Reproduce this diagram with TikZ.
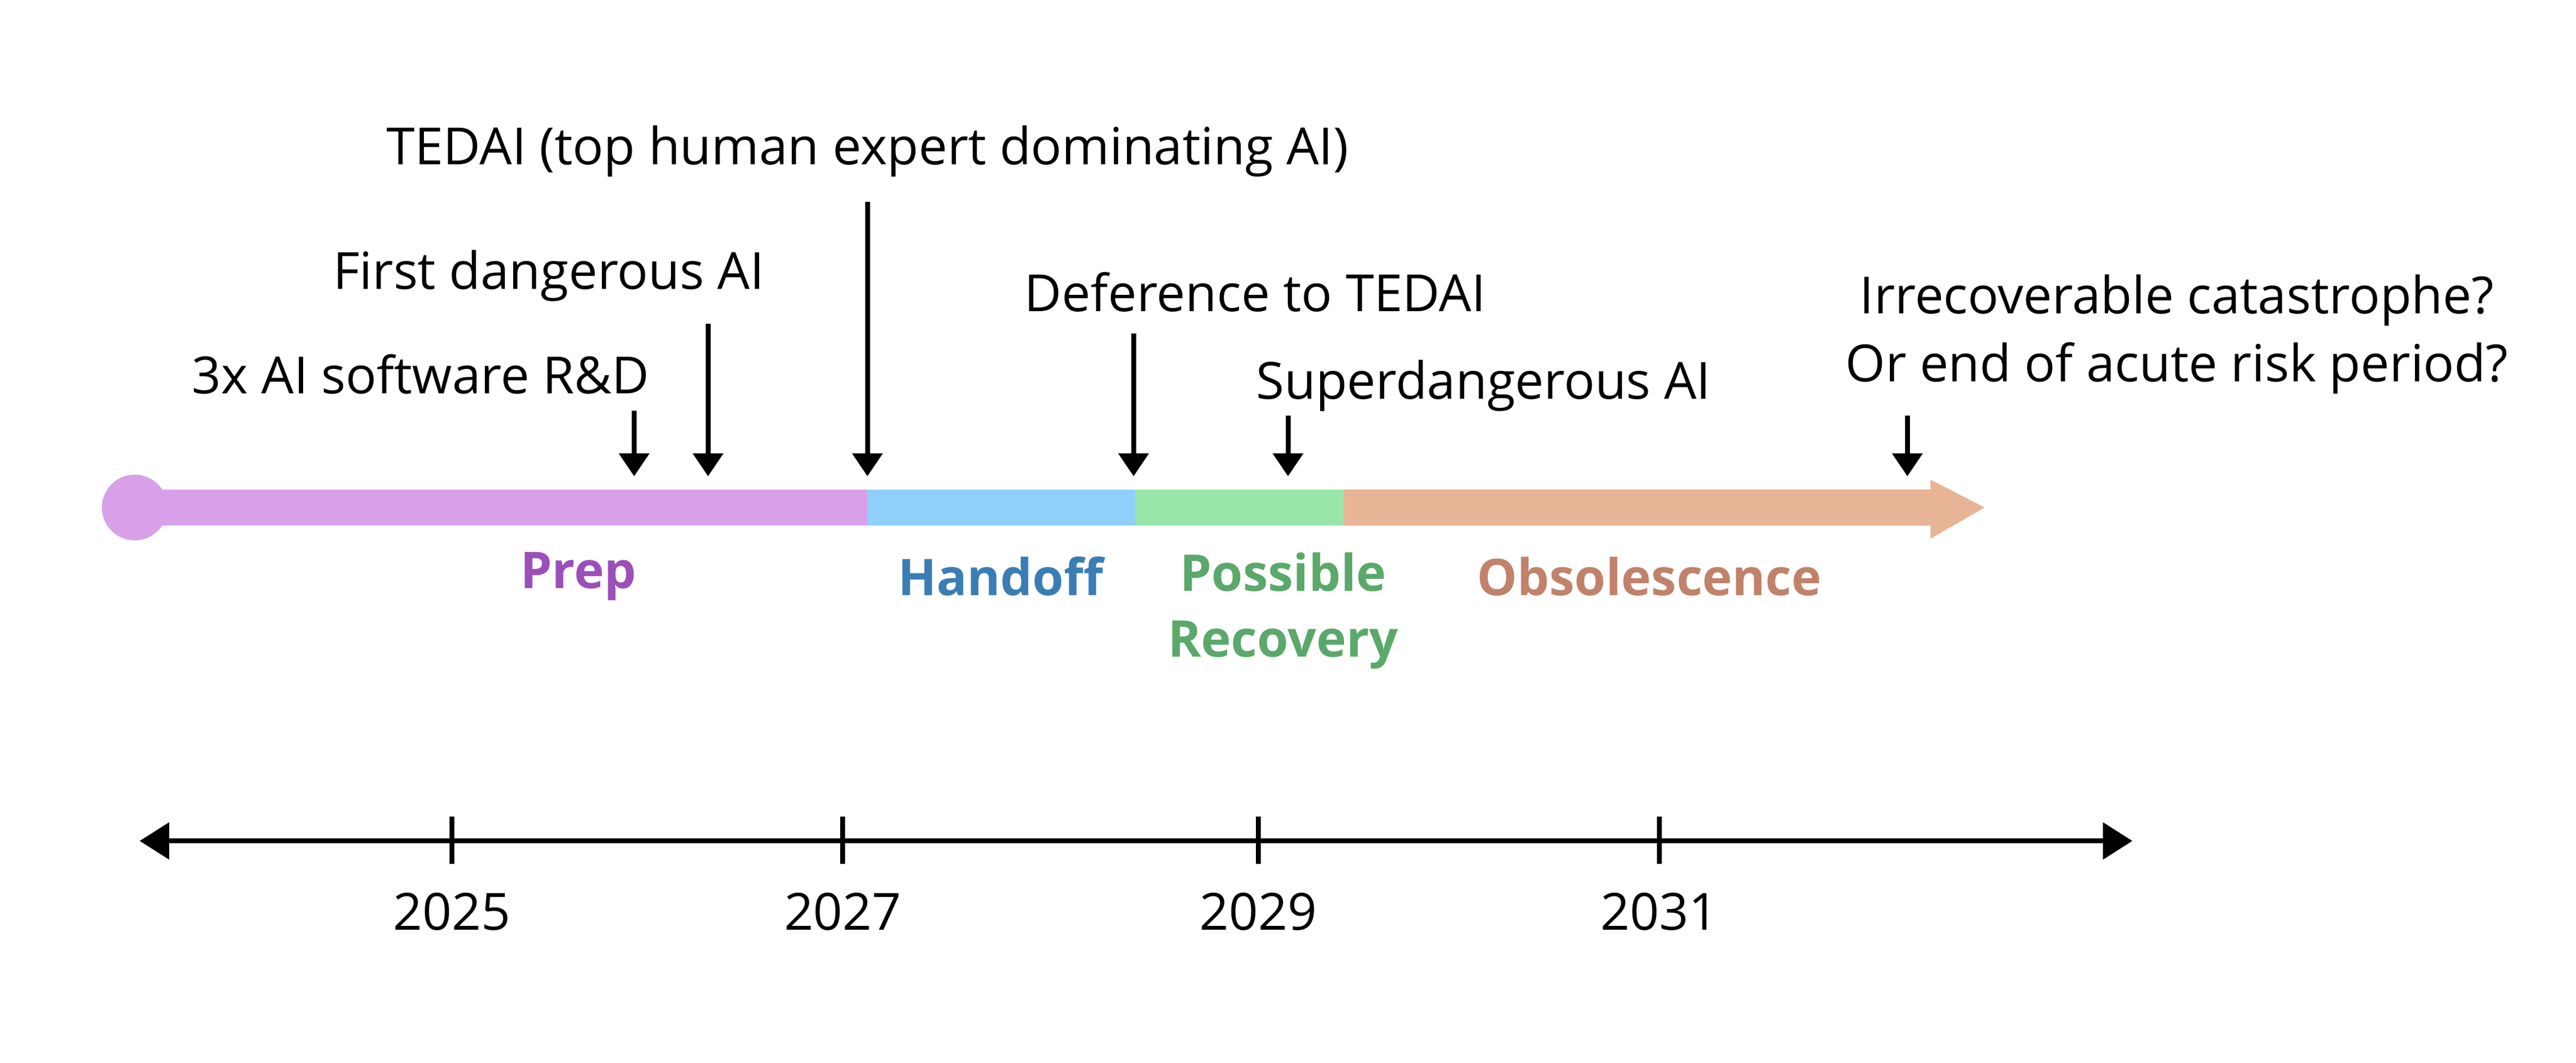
\documentclass[tikz,border=0pt]{standalone}
\usepackage{fontspec}
\setmainfont{Open Sans}
\usetikzlibrary{arrows.meta}
\definecolor{cpurple}{HTML}{D8A0E8}
\definecolor{cblue}{HTML}{90CFFA}
\definecolor{cgreen}{HTML}{98E6A8}
\definecolor{corange}{HTML}{E8B496}
\definecolor{tpurple}{HTML}{9B4FB8}
\definecolor{tblue}{HTML}{3A7DB5}
\definecolor{tgreen}{HTML}{5BA86B}
\definecolor{torange}{HTML}{C0826A}
\begin{document}
\begin{tikzpicture}[x=0.5pt,y=-0.5pt,
  lbl/.style={font=\fontsize{15.6}{18}\selectfont,text=black,inner sep=0},
  phase/.style={font=\fontsize{15.4}{20}\selectfont\bfseries,inner sep=0,align=center},
  ev/.style={-{Triangle[width=9pt,length=7pt]},line width=1.5pt},
  yr/.style={font=\fontsize{15.6}{18}\selectfont,inner sep=0}]
\useasboundingbox (0,0) rectangle (1568,647);
% bar
\fill[cpurple] (82,309) circle (20);
\fill[cpurple] (82,298) rectangle (528,320);
\fill[cblue] (528,298) rectangle (691,320);
\fill[cgreen] (691,298) rectangle (818,320);
\fill[corange] (818,298) rectangle (1175,320) -- (1175,292) -- (1208,309) -- (1175,328) -- cycle;
% phase labels
\node[phase,text=tpurple] (prep) at (352,351) {Prep};
\node[phase,text=tblue] (hand) at (609,351) {Handoff};
\node[phase,text=tgreen,anchor=north] (rec) at (781,336) {Possible\\Recovery};
\node[phase,text=torange] (obs) at (1004,351) {Obsolescence};
% events
\node[lbl] (e1) at (256,228) {3x AI software R\&D};
\coordinate (e1a) at (386,250); \coordinate (e1b) at (386,290);
\draw[ev] (e1a) -- (e1b);
\node[lbl] (e2) at (334,168) {First dangerous AI};
\coordinate (e2a) at (431,197); \coordinate (e2b) at (431,290);
\draw[ev] (e2a) -- (e2b);
\node[lbl] (e3) at (528,92) {TEDAI (top human expert dominating AI)};
\coordinate (e3a) at (528,123); \coordinate (e3b) at (528,290);
\draw[ev] (e3a) -- (e3b);
\node[lbl] (e4) at (764,178) {Deference to TEDAI};
\coordinate (e4a) at (690,203); \coordinate (e4b) at (690,290);
\draw[ev] (e4a) -- (e4b);
\node[lbl] (e5) at (903,235) {Superdangerous AI};
\coordinate (e5a) at (784,253); \coordinate (e5b) at (784,290);
\draw[ev] (e5a) -- (e5b);
\node[lbl] (e6a) at (1325,183) {Irrecoverable catastrophe?};
\node[lbl] (e6b) at (1325,224) {Or end of acute risk period?};
\coordinate (e6s) at (1161,253); \coordinate (e6e) at (1161,290);
\draw[ev] (e6s) -- (e6e);
% axis
\coordinate (al) at (85,512); \coordinate (ar) at (1298,512);
\draw[{Triangle[width=11pt,length=9pt]}-{Triangle[width=11pt,length=9pt]},line width=1.5pt] (al) -- (ar);
\foreach \x/\y in {275/2025,513/2027,766/2029,1010/2031}{
  \draw[line width=1.5pt] (\x,497) -- (\x,526);
  \node[yr] (y\y) at (\x,555) {\y};
}
\end{tikzpicture}
\end{document}
